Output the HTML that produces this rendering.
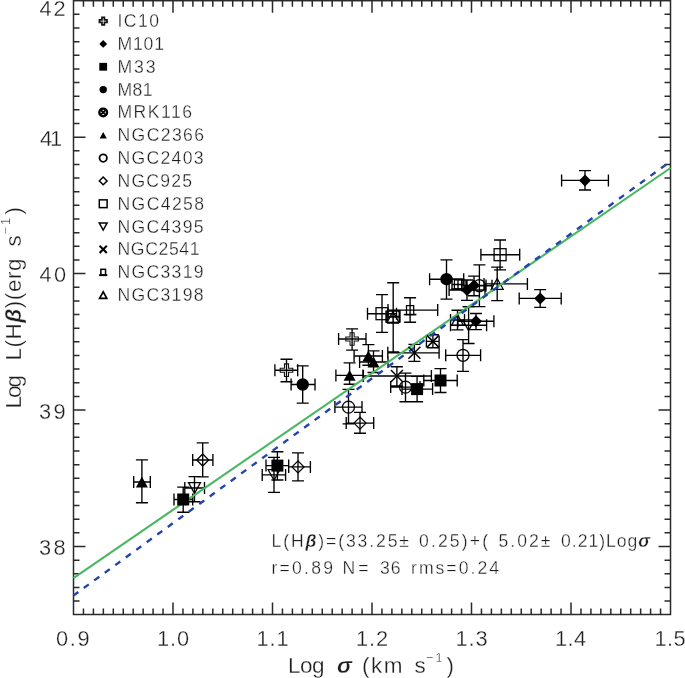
<!DOCTYPE html>
<html><head><meta charset="utf-8"><style>
html,body{margin:0;padding:0;background:#fff;}
svg{display:block;}
text{font-family:"Liberation Sans",sans-serif;fill:#1e1e1e;stroke:#fff;stroke-width:0.3px;}
.gk{font-weight:bold;font-style:italic;}
</style></head><body>
<svg width="685" height="678" viewBox="0 0 685 678">
<rect width="685" height="678" fill="#fff"/>
<rect x="73.5" y="0.7" width="597.0" height="613.8" fill="none" stroke="#2a2a2a" stroke-width="1.5"/>
<path d="M83.45 614.5v-6M83.45 0.7v6M93.40 614.5v-6M93.40 0.7v6M103.35 614.5v-6M103.35 0.7v6M113.30 614.5v-6M113.30 0.7v6M123.25 614.5v-6M123.25 0.7v6M133.20 614.5v-6M133.20 0.7v6M143.15 614.5v-6M143.15 0.7v6M153.10 614.5v-6M153.10 0.7v6M163.05 614.5v-6M163.05 0.7v6M173.00 614.5v-12M173.00 0.7v12M182.95 614.5v-6M182.95 0.7v6M192.90 614.5v-6M192.90 0.7v6M202.85 614.5v-6M202.85 0.7v6M212.80 614.5v-6M212.80 0.7v6M222.75 614.5v-6M222.75 0.7v6M232.70 614.5v-6M232.70 0.7v6M242.65 614.5v-6M242.65 0.7v6M252.60 614.5v-6M252.60 0.7v6M262.55 614.5v-6M262.55 0.7v6M272.50 614.5v-12M272.50 0.7v12M282.45 614.5v-6M282.45 0.7v6M292.40 614.5v-6M292.40 0.7v6M302.35 614.5v-6M302.35 0.7v6M312.30 614.5v-6M312.30 0.7v6M322.25 614.5v-6M322.25 0.7v6M332.20 614.5v-6M332.20 0.7v6M342.15 614.5v-6M342.15 0.7v6M352.10 614.5v-6M352.10 0.7v6M362.05 614.5v-6M362.05 0.7v6M372.00 614.5v-12M372.00 0.7v12M381.95 614.5v-6M381.95 0.7v6M391.90 614.5v-6M391.90 0.7v6M401.85 614.5v-6M401.85 0.7v6M411.80 614.5v-6M411.80 0.7v6M421.75 614.5v-6M421.75 0.7v6M431.70 614.5v-6M431.70 0.7v6M441.65 614.5v-6M441.65 0.7v6M451.60 614.5v-6M451.60 0.7v6M461.55 614.5v-6M461.55 0.7v6M471.50 614.5v-12M471.50 0.7v12M481.45 614.5v-6M481.45 0.7v6M491.40 614.5v-6M491.40 0.7v6M501.35 614.5v-6M501.35 0.7v6M511.30 614.5v-6M511.30 0.7v6M521.25 614.5v-6M521.25 0.7v6M531.20 614.5v-6M531.20 0.7v6M541.15 614.5v-6M541.15 0.7v6M551.10 614.5v-6M551.10 0.7v6M561.05 614.5v-6M561.05 0.7v6M571.00 614.5v-12M571.00 0.7v12M580.95 614.5v-6M580.95 0.7v6M590.90 614.5v-6M590.90 0.7v6M600.85 614.5v-6M600.85 0.7v6M610.80 614.5v-6M610.80 0.7v6M620.75 614.5v-6M620.75 0.7v6M630.70 614.5v-6M630.70 0.7v6M640.65 614.5v-6M640.65 0.7v6M650.60 614.5v-6M650.60 0.7v6M660.55 614.5v-6M660.55 0.7v6M73.5 601.08h6M670.5 601.08h-6M73.5 587.43h6M670.5 587.43h-6M73.5 573.79h6M670.5 573.79h-6M73.5 560.15h6M670.5 560.15h-6M73.5 546.50h12M670.5 546.50h-12M73.5 532.85h6M670.5 532.85h-6M73.5 519.21h6M670.5 519.21h-6M73.5 505.57h6M670.5 505.57h-6M73.5 491.92h6M670.5 491.92h-6M73.5 478.27h6M670.5 478.27h-6M73.5 464.63h6M670.5 464.63h-6M73.5 450.98h6M670.5 450.98h-6M73.5 437.34h6M670.5 437.34h-6M73.5 423.70h6M670.5 423.70h-6M73.5 410.05h12M670.5 410.05h-12M73.5 396.40h6M670.5 396.40h-6M73.5 382.76h6M670.5 382.76h-6M73.5 369.12h6M670.5 369.12h-6M73.5 355.47h6M670.5 355.47h-6M73.5 341.82h6M670.5 341.82h-6M73.5 328.18h6M670.5 328.18h-6M73.5 314.53h6M670.5 314.53h-6M73.5 300.89h6M670.5 300.89h-6M73.5 287.25h6M670.5 287.25h-6M73.5 273.60h12M670.5 273.60h-12M73.5 259.95h6M670.5 259.95h-6M73.5 246.31h6M670.5 246.31h-6M73.5 232.67h6M670.5 232.67h-6M73.5 219.02h6M670.5 219.02h-6M73.5 205.37h6M670.5 205.37h-6M73.5 191.73h6M670.5 191.73h-6M73.5 178.08h6M670.5 178.08h-6M73.5 164.44h6M670.5 164.44h-6M73.5 150.80h6M670.5 150.80h-6M73.5 137.15h12M670.5 137.15h-12M73.5 123.50h6M670.5 123.50h-6M73.5 109.86h6M670.5 109.86h-6M73.5 96.22h6M670.5 96.22h-6M73.5 82.57h6M670.5 82.57h-6M73.5 68.92h6M670.5 68.92h-6M73.5 55.28h6M670.5 55.28h-6M73.5 41.63h6M670.5 41.63h-6M73.5 27.99h6M670.5 27.99h-6M73.5 14.35h6M670.5 14.35h-6" stroke="#2a2a2a" stroke-width="1.5" fill="none"/>
<path d="M133.70 482.00H150.30M141.90 459.90V502.70M133.70 476.00V488.00M150.30 476.00V488.00M135.90 459.90H147.90M135.90 502.70H147.90M174.00 499.50H192.70M183.20 487.10V512.20M174.00 493.50V505.50M192.70 493.50V505.50M177.20 487.10H189.20M177.20 512.20H189.20M184.80 488.00H204.50M194.50 476.60V501.70M184.80 482.00V494.00M204.50 482.00V494.00M188.50 476.60H200.50M188.50 501.70H200.50M192.70 460.00H212.90M202.70 442.80V476.90M192.70 454.00V466.00M212.90 454.00V466.00M196.70 442.80H208.70M196.70 476.90H208.70M262.20 474.90H285.60M274.00 457.40V492.30M262.20 468.90V480.90M285.60 468.90V480.90M268.00 457.40H280.00M268.00 492.30H280.00M266.00 465.60H288.70M277.40 451.70V480.00M266.00 459.60V471.60M288.70 459.60V471.60M271.40 451.70H283.40M271.40 480.00H283.40M288.70 466.90H310.40M298.00 452.90V480.90M288.70 460.90V472.90M310.40 460.90V472.90M292.00 452.90H304.00M292.00 480.90H304.00M274.90 370.20H297.70M286.50 359.20V381.70M274.90 364.20V376.20M297.70 364.20V376.20M280.50 359.20H292.50M280.50 381.70H292.50M291.10 384.50H315.00M302.70 365.80V403.10M291.10 378.50V390.50M315.00 378.50V390.50M296.70 365.80H308.70M296.70 403.10H308.70M335.90 375.40H362.90M349.60 362.90V384.20M335.90 369.40V381.40M362.90 369.40V381.40M343.60 362.90H355.60M343.60 384.20H355.60M334.90 407.10H362.00M348.50 389.40V423.90M334.90 401.10V413.10M362.00 401.10V413.10M342.50 389.40H354.50M342.50 423.90H354.50M346.20 423.10H373.70M360.00 412.40V433.20M346.20 417.10V429.10M373.70 417.10V429.10M354.00 412.40H366.00M354.00 433.20H366.00M338.60 339.00H366.00M352.10 328.80V350.10M338.60 333.00V345.00M366.00 333.00V345.00M346.10 328.80H358.10M346.10 350.10H358.10M354.10 356.00H382.40M368.40 344.60V365.20M354.10 350.00V362.00M382.40 350.00V362.00M362.40 344.60H374.40M362.40 365.20H374.40M359.60 362.00H388.00M373.50 350.90V372.50M359.60 356.00V368.00M388.00 356.00V368.00M367.50 350.90H379.50M367.50 372.50H379.50M367.50 313.70H396.50M382.00 294.60V332.30M367.50 307.70V319.70M396.50 307.70V319.70M376.00 294.60H388.00M376.00 332.30H388.00M386.00 316.50H400.00M393.20 282.70V351.80M386.00 310.50V322.50M400.00 310.50V322.50M387.20 282.70H399.20M387.20 351.80H399.20M386.20 317.00H399.60M393.00 311.00V323.00M386.20 311.00V323.00M399.60 311.00V323.00M387.00 311.00H399.00M387.00 323.00H399.00M388.00 310.10H437.70M410.10 297.70V322.20M388.00 304.10V316.10M437.70 304.10V316.10M404.10 297.70H416.10M404.10 322.20H416.10M387.80 352.80H439.10M414.40 344.30V361.30M387.80 346.80V358.80M439.10 346.80V358.80M408.40 344.30H420.40M408.40 361.30H420.40M426.40 341.40H439.10M432.90 334.70V347.70M426.40 335.40V347.40M439.10 335.40V347.40M426.90 334.70H438.90M426.90 347.70H438.90M363.30 376.00H431.40M396.90 366.70V386.00M363.30 370.00V382.00M431.40 370.00V382.00M390.90 366.70H402.90M390.90 386.00H402.90M390.70 387.10H420.00M405.50 373.10V401.70M390.70 381.10V393.10M420.00 381.10V393.10M399.50 373.10H411.50M399.50 401.70H411.50M402.00 389.10H432.60M417.10 376.40V401.70M402.00 383.10V395.10M432.60 383.10V395.10M411.10 376.40H423.10M411.10 401.70H423.10M423.80 380.50H457.20M440.50 368.60V392.50M423.80 374.50V386.50M457.20 374.50V386.50M434.50 368.60H446.50M434.50 392.50H446.50M429.60 279.20H463.70M446.50 259.80V299.10M429.60 273.20V285.20M463.70 273.20V285.20M440.50 259.80H452.50M440.50 299.10H452.50M445.70 355.30H480.60M463.00 339.60V371.30M445.70 349.30V361.30M480.60 349.30V361.30M457.00 339.60H469.00M457.00 371.30H469.00M458.00 321.20H493.90M476.00 313.50V329.60M458.00 315.20V327.20M493.90 315.20V327.20M470.00 313.50H482.00M470.00 329.60H482.00M450.50 325.20H486.60M468.60 306.70V343.50M450.50 319.20V331.20M486.60 319.20V331.20M462.60 306.70H474.60M462.60 343.50H474.60M450.50 320.00H464.50M457.50 310.20V329.90M450.50 314.00V326.00M464.50 314.00V326.00M451.50 310.20H463.50M451.50 329.90H463.50M480.90 254.70H519.70M500.10 240.00V269.90M480.90 248.70V260.70M519.70 248.70V260.70M494.10 240.00H506.10M494.10 269.90H506.10M484.00 283.90H527.40M497.20 267.10V300.60M484.00 277.90V289.90M527.40 277.90V289.90M491.20 267.10H503.20M491.20 300.60H503.20M519.20 298.40H561.20M540.20 289.60V307.40M519.20 292.40V304.40M561.20 292.40V304.40M534.20 289.60H546.20M534.20 307.40H546.20M561.60 180.40H608.40M585.00 170.60V190.00M561.60 174.40V186.40M608.40 174.40V186.40M579.00 170.60H591.00M579.00 190.00H591.00M449.10 290.00H485.00M467.00 280.00V300.40M449.10 284.00V296.00M485.00 284.00V296.00M461.00 280.00H473.00M461.00 300.40H473.00M462.00 285.50H486.00M474.00 276.10V295.70M462.00 279.50V291.50M486.00 279.50V291.50M468.00 276.10H480.00M468.00 295.70H480.00M466.00 285.70H492.00M479.40 264.80V306.60M466.00 279.70V291.70M492.00 279.70V291.70M473.40 264.80H485.40M473.40 306.60H485.40M452.00 284.50H464.00M458.00 279.00V290.00M452.00 278.50V290.50M464.00 278.50V290.50M452.00 279.00H464.00M452.00 290.00H464.00" stroke="#000" stroke-width="1.35" fill="none"/>
<path d="M135.90 487.40L141.90 476.60L147.90 487.40Z" fill="#000"/>
<path d="M188.50 482.60L194.50 493.40L200.50 482.60Z" fill="none" stroke="#000" stroke-width="1.25"/>
<path d="M196.70 460.00L202.70 454.00L208.70 460.00L202.70 466.00Z" fill="none" stroke="#000" stroke-width="1.25"/>
<path d="M268.00 469.50L274.00 480.30L280.00 469.50Z" fill="none" stroke="#000" stroke-width="1.25"/>
<path d="M292.00 466.90L298.00 460.90L304.00 466.90L298.00 472.90Z" fill="none" stroke="#000" stroke-width="1.25"/>
<path d="M284.46 363.90L288.54 363.90L288.54 368.16L292.80 368.16L292.80 372.24L288.54 372.24L288.54 376.50L284.46 376.50L284.46 372.24L280.20 372.24L280.20 368.16L284.46 368.16Z" fill="none" stroke="#111" stroke-width="1.0625"/>
<circle cx="302.70" cy="384.50" r="6.20" fill="#000"/>
<path d="M343.60 380.80L349.60 370.00L355.60 380.80Z" fill="#000"/>
<circle cx="348.50" cy="407.10" r="6.00" fill="none" stroke="#000" stroke-width="1.25"/>
<path d="M354.00 423.10L360.00 417.10L366.00 423.10L360.00 429.10Z" fill="none" stroke="#000" stroke-width="1.25"/>
<path d="M350.06 332.70L354.14 332.70L354.14 336.96L358.40 336.96L358.40 341.04L354.14 341.04L354.14 345.30L350.06 345.30L350.06 341.04L345.80 341.04L345.80 336.96L350.06 336.96Z" fill="none" stroke="#111" stroke-width="1.0625"/>
<path d="M362.40 361.40L368.40 350.60L374.40 361.40Z" fill="#000"/>
<path d="M367.50 367.40L373.50 356.60L379.50 367.40Z" fill="#000"/>
<rect x="376.00" y="307.70" width="12.00" height="12.00" fill="none" stroke="#000" stroke-width="1.25"/>
<rect x="387.20" y="310.50" width="12.00" height="12.00" fill="none" stroke="#000" stroke-width="1.25"/>
<path d="M387.00 322.40L393.00 311.60L399.00 322.40Z" fill="none" stroke="#000" stroke-width="1.25"/>
<rect x="406.50" y="305.60" width="7.20" height="9.00" fill="none" stroke="#000" stroke-width="1.25"/><path d="M403.80 314.60h12.60" stroke="#000" stroke-width="1.625"/>
<circle cx="405.50" cy="387.10" r="6.00" fill="none" stroke="#000" stroke-width="1.25"/>
<circle cx="446.50" cy="279.20" r="6.20" fill="#000"/>
<circle cx="463.00" cy="355.30" r="6.00" fill="none" stroke="#000" stroke-width="1.25"/>
<path d="M470.00 321.20L476.00 315.20L482.00 321.20L476.00 327.20Z" fill="#000"/>
<path d="M462.60 319.80L468.60 330.60L474.60 319.80Z" fill="none" stroke="#000" stroke-width="1.25"/>
<path d="M451.50 325.40L457.50 314.60L463.50 325.40Z" fill="none" stroke="#000" stroke-width="1.25"/>
<rect x="494.10" y="248.70" width="12.00" height="12.00" fill="none" stroke="#000" stroke-width="1.25"/>
<path d="M491.20 289.30L497.20 278.50L503.20 289.30Z" fill="none" stroke="#000" stroke-width="1.25"/>
<path d="M534.20 298.40L540.20 292.40L546.20 298.40L540.20 304.40Z" fill="#000"/>
<path d="M579.00 180.40L585.00 174.40L591.00 180.40L585.00 186.40Z" fill="#000"/>
<path d="M461.00 290.00L467.00 284.00L473.00 290.00L467.00 296.00Z" fill="#000"/>
<path d="M468.00 285.50L474.00 279.50L480.00 285.50L474.00 291.50Z" fill="#000"/>
<circle cx="479.40" cy="285.70" r="6.00" fill="none" stroke="#000" stroke-width="1.25"/>
<rect x="454.40" y="280.00" width="7.20" height="9.00" fill="none" stroke="#000" stroke-width="1.25"/><path d="M451.70 289.00h12.60" stroke="#000" stroke-width="1.625"/>
<line x1="73.5" y1="578.2" x2="670.5" y2="168.0" stroke="#48b860" stroke-width="2.1"/>
<line x1="73.5" y1="595.5" x2="670.4" y2="161.4" stroke="#2343b0" stroke-width="2.4" stroke-dasharray="6.2 6.776" stroke-dashoffset="0.238"/>
<rect x="177.20" y="493.50" width="12.00" height="12.00" fill="#000"/>
<rect x="271.40" y="459.60" width="12.00" height="12.00" fill="#000"/>
<path d="M408.40 346.80L420.40 358.80M408.40 358.80L420.40 346.80" stroke="#000" stroke-width="1.5"/>
<path d="M426.90 335.40L438.90 347.40M426.90 347.40L438.90 335.40" stroke="#000" stroke-width="1.5"/>
<path d="M390.90 370.00L402.90 382.00M390.90 382.00L402.90 370.00" stroke="#000" stroke-width="1.5"/>
<rect x="411.10" y="383.10" width="12.00" height="12.00" fill="#000"/>
<rect x="434.50" y="374.50" width="12.00" height="12.00" fill="#000"/>
<path d="M101.98 17.32L104.42 17.32L104.42 19.88L106.98 19.88L106.98 22.32L104.42 22.32L104.42 24.88L101.98 24.88L101.98 22.32L99.42 22.32L99.42 19.88L101.98 19.88Z" fill="none" stroke="#111" stroke-width="1.7"/>
<path d="M99.30 43.93L103.20 40.03L107.10 43.93L103.20 47.83Z" fill="#000"/>
<rect x="99.30" y="62.86" width="7.80" height="7.80" fill="#000"/>
<circle cx="103.20" cy="89.59" r="3.70" fill="#000"/>
<circle cx="103.20" cy="112.42" r="3.80" fill="none" stroke="#000" stroke-width="2.4699999999999998"/><path d="M100.92 110.14L105.48 114.70M100.92 114.70L105.48 110.14" stroke="#000" stroke-width="1.9"/>
<path d="M99.60 138.49L103.20 132.01L106.80 138.49Z" fill="#000"/>
<circle cx="103.20" cy="158.08" r="3.70" fill="none" stroke="#000" stroke-width="1.8"/>
<path d="M99.30 180.91L103.20 177.01L107.10 180.91L103.20 184.81Z" fill="none" stroke="#000" stroke-width="1.5"/>
<rect x="99.30" y="199.84" width="7.80" height="7.80" fill="none" stroke="#000" stroke-width="1.5"/>
<path d="M99.30 223.06L103.20 230.08L107.10 223.06Z" fill="none" stroke="#000" stroke-width="1.5"/>
<path d="M99.60 245.80L106.80 253.00M99.60 253.00L106.80 245.80" stroke="#000" stroke-width="2.0"/>
<rect x="100.86" y="269.31" width="4.68" height="5.85" fill="none" stroke="#000" stroke-width="1.5"/><path d="M99.11 275.16h8.19" stroke="#000" stroke-width="1.9500000000000002"/>
<path d="M99.60 298.30L103.20 291.82L106.80 298.30Z" fill="none" stroke="#000" stroke-width="1.7"/>
<text x="117.50" y="27.1" font-size="17.6" textLength="41.50" lengthAdjust="spacing">IC10</text>
<text x="117.50" y="49.93" font-size="17.6" textLength="46.50" lengthAdjust="spacing">M101</text>
<text x="117.50" y="72.76" font-size="17.6" textLength="38.00" lengthAdjust="spacing">M33</text>
<text x="117.50" y="95.59" font-size="17.6" textLength="35.00" lengthAdjust="spacing">M81</text>
<text x="117.50" y="118.42" font-size="17.6" textLength="74.50" lengthAdjust="spacing">MRK116</text>
<text x="117.50" y="141.25" font-size="17.6" textLength="86.50" lengthAdjust="spacing">NGC2366</text>
<text x="117.50" y="164.08" font-size="17.6" textLength="86.00" lengthAdjust="spacing">NGC2403</text>
<text x="117.50" y="186.91" font-size="17.6" textLength="74.50" lengthAdjust="spacing">NGC925</text>
<text x="117.50" y="209.74" font-size="17.6" textLength="86.50" lengthAdjust="spacing">NGC4258</text>
<text x="117.50" y="232.57" font-size="17.6" textLength="86.00" lengthAdjust="spacing">NGC4395</text>
<text x="117.50" y="255.4" font-size="17.6" textLength="82.00" lengthAdjust="spacing">NGC2541</text>
<text x="117.50" y="278.23" font-size="17.6" textLength="86.00" lengthAdjust="spacing">NGC3319</text>
<text x="117.50" y="301.06" font-size="17.6" textLength="86.00" lengthAdjust="spacing">NGC3198</text>
<text x="271.50" y="547.4" font-size="17.6" textLength="137.50" lengthAdjust="spacing">L(H<tspan class="gk">β</tspan>)=(33.25±</text>
<text x="419.00" y="547.4" font-size="17.6" textLength="69.00" lengthAdjust="spacing">0.25)+(</text>
<text x="498.50" y="547.4" font-size="17.6" textLength="52.00" lengthAdjust="spacing">5.02±</text>
<text x="561.00" y="547.4" font-size="17.6" textLength="89.00" lengthAdjust="spacing">0.21)Log<tspan class="gk">σ</tspan></text>
<text x="271.50" y="573.9" font-size="17.6" textLength="61.50" lengthAdjust="spacing">r=0.89</text>
<text x="342.50" y="573.9" font-size="17.6" textLength="26.00" lengthAdjust="spacing">N=</text>
<text x="380.00" y="573.9" font-size="17.6" textLength="20.50" lengthAdjust="spacing">36</text>
<text x="411.00" y="573.9" font-size="17.6" textLength="88.00" lengthAdjust="spacing">rms=0.24</text>
<text x="56.00" y="645.9" font-size="21.8" textLength="33.50" lengthAdjust="spacing">0.9</text>
<text x="157.00" y="645.9" font-size="21.8" textLength="32.00" lengthAdjust="spacing">1.0</text>
<text x="256.50" y="645.9" font-size="21.8" textLength="32.00" lengthAdjust="spacing">1.1</text>
<text x="356.00" y="645.9" font-size="21.8" textLength="32.00" lengthAdjust="spacing">1.2</text>
<text x="455.50" y="645.9" font-size="21.8" textLength="32.00" lengthAdjust="spacing">1.3</text>
<text x="555.00" y="645.9" font-size="21.8" textLength="31.00" lengthAdjust="spacing">1.4</text>
<text x="654.50" y="645.9" font-size="21.8" textLength="31.00" lengthAdjust="spacing">1.5</text>
<text x="39.50" y="15.7" font-size="21.8" textLength="26.00" lengthAdjust="spacing">42</text>
<text x="40.00" y="145.6" font-size="21.8" textLength="22.00" lengthAdjust="spacing">41</text>
<text x="39.50" y="282.3" font-size="21.8" textLength="26.50" lengthAdjust="spacing">40</text>
<text x="39.00" y="418.6" font-size="21.8" textLength="26.50" lengthAdjust="spacing">39</text>
<text x="39.00" y="555.1" font-size="21.8" textLength="26.50" lengthAdjust="spacing">38</text>
<text x="288.00" y="673.2" font-size="22.5" textLength="36.50" lengthAdjust="spacing">Log</text>
<text x="337.00" y="673.2" font-size="22.5"><tspan class="gk">σ</tspan></text>
<text x="362.00" y="673.2" font-size="22.5" textLength="40.50" lengthAdjust="spacing">(km</text>
<text x="414.50" y="673.2" font-size="22.5">s</text>
<text x="426.00" y="662.4" font-size="12.6" textLength="16.50" lengthAdjust="spacing">−1</text>
<text x="446.50" y="673.2" font-size="22.5">)</text>
<text transform="translate(0,408) rotate(-90)" x="-0.50" y="20.8" font-size="22.5" textLength="33.50" lengthAdjust="spacing">Log</text>
<text transform="translate(0,408) rotate(-90)" x="47.50" y="20.8" font-size="22.5" textLength="102.00" lengthAdjust="spacing">L(H<tspan class="gk">β</tspan>)(erg</text>
<text transform="translate(0,408) rotate(-90)" x="161.50" y="20.8" font-size="22.5">s</text>
<text transform="translate(0,408) rotate(-90)" x="173.50" y="10.2" font-size="12.6" textLength="16.50" lengthAdjust="spacing">−1</text>
<text transform="translate(0,408) rotate(-90)" x="193.50" y="20.8" font-size="22.5">)</text>
</svg>
</body></html>
